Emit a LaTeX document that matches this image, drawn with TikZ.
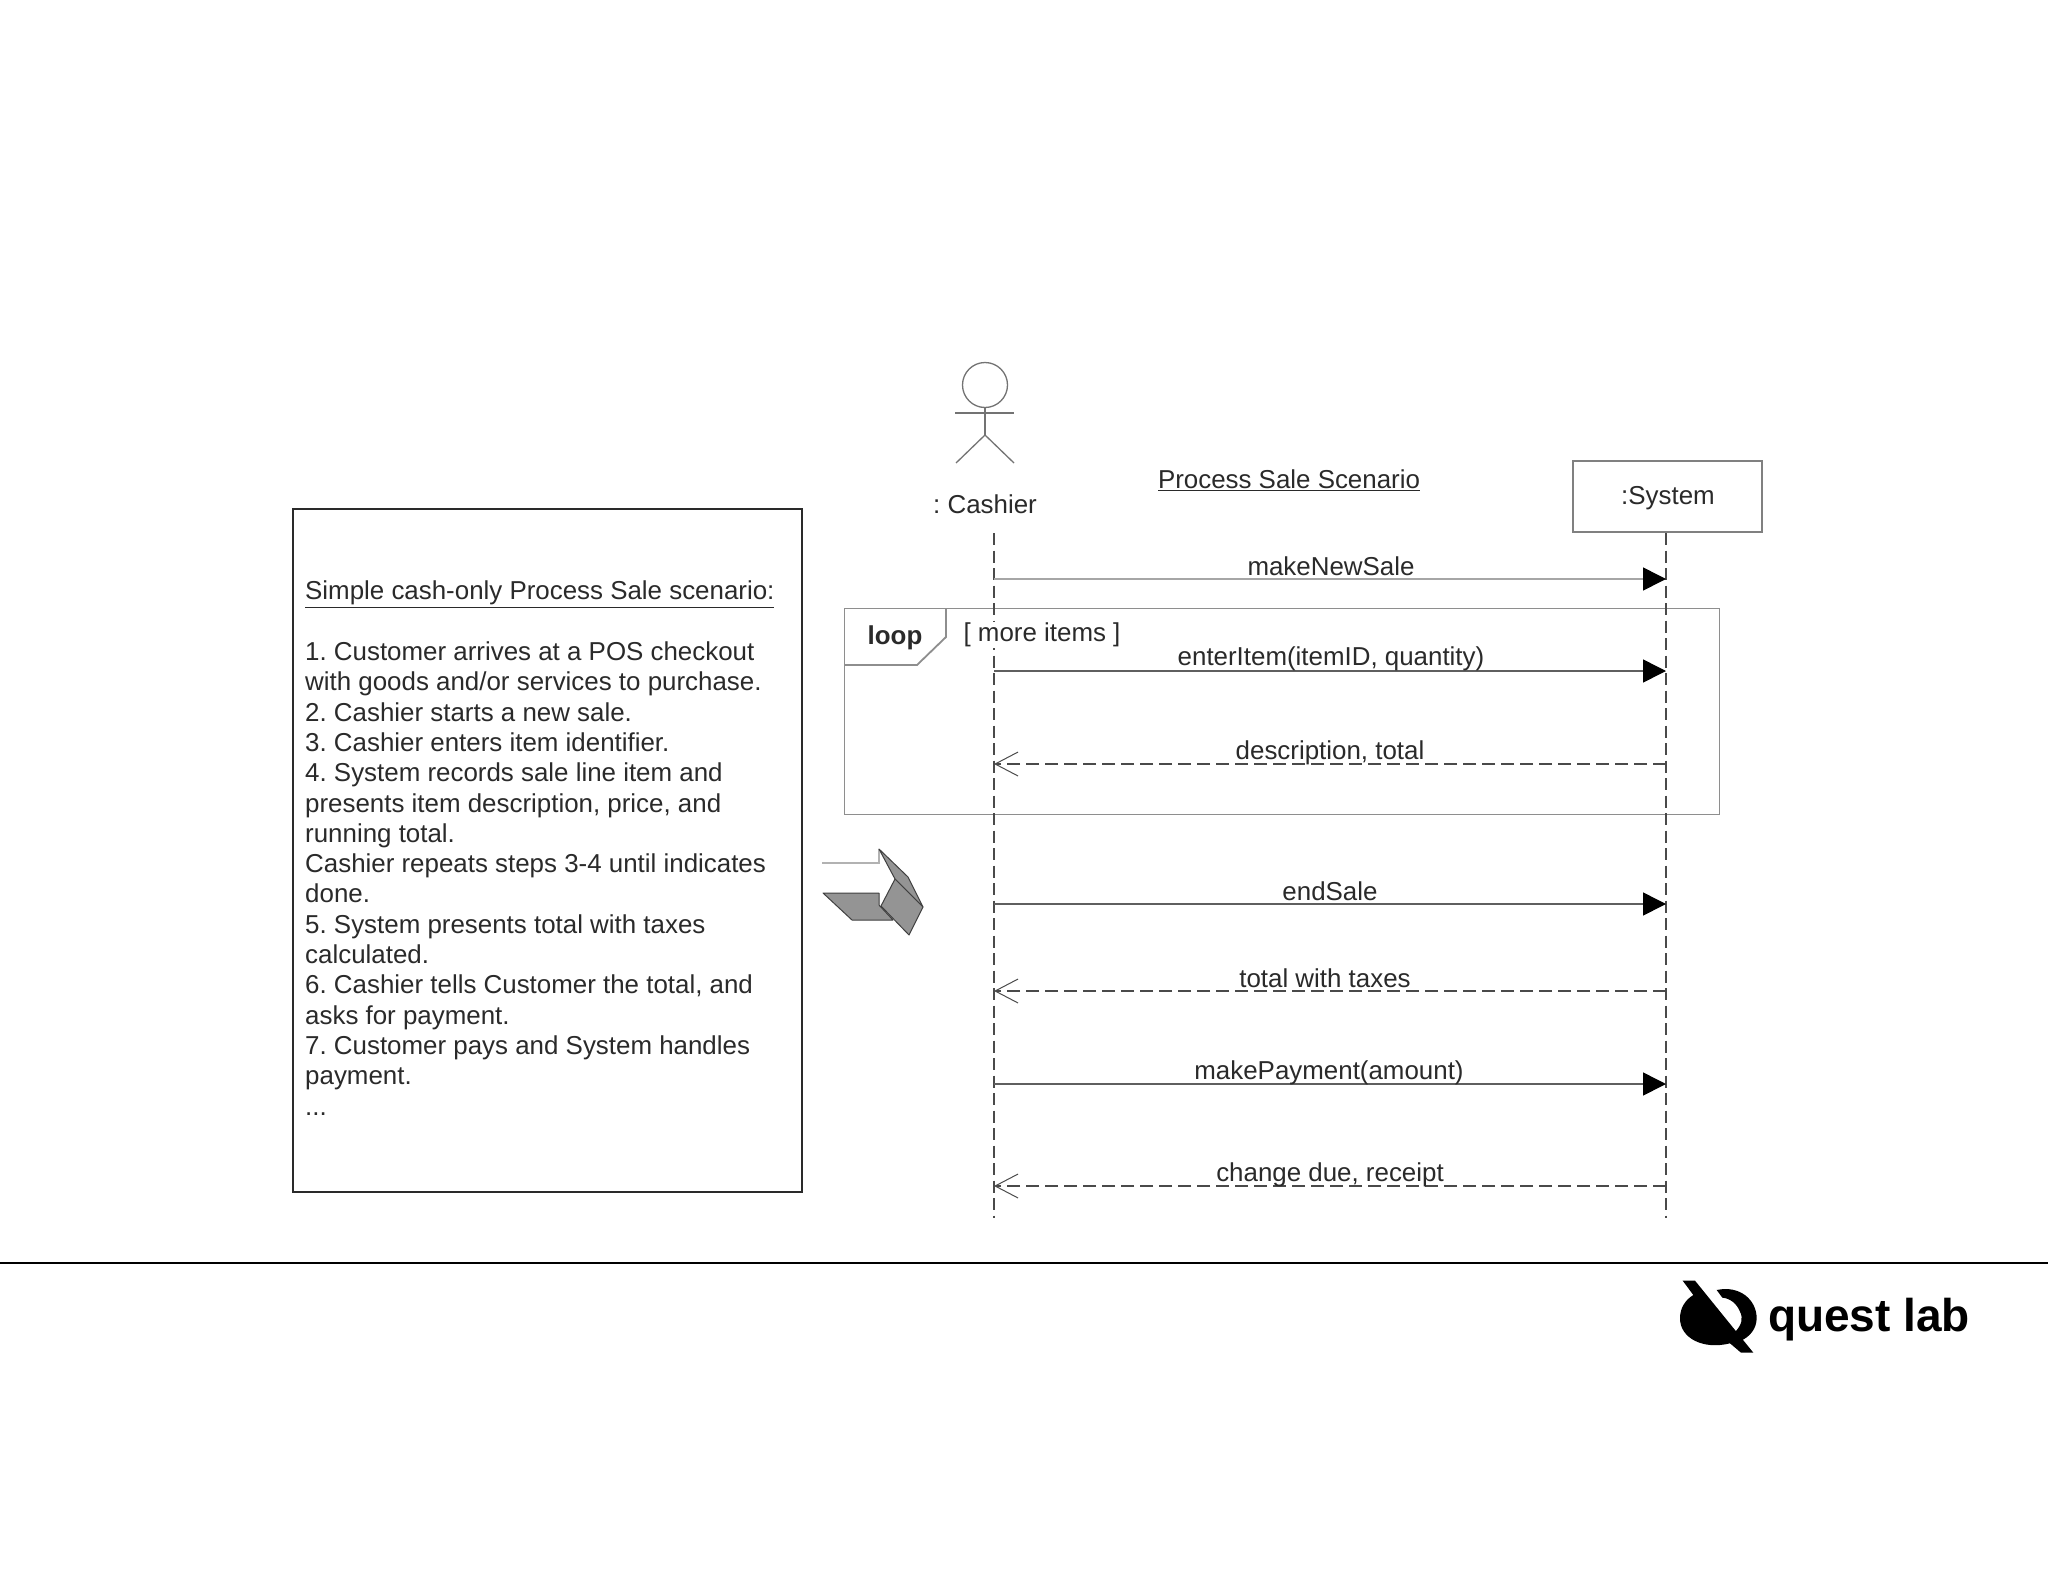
\documentclass[tikz,border=0pt]{standalone}
\usepackage{fontspec}
\setmainfont{Liberation Sans}
\usetikzlibrary{arrows.meta,calc}
\definecolor{ink}{HTML}{2A2A2A}
\definecolor{frameline}{HTML}{8E8E8E}
\definecolor{fold}{HTML}{949494}
\newcommand{\fsz}{\frenchspacing\fontsize{25.9}{30.3}\selectfont}
\tikzset{
  x=1pt,y=-1pt,
  every node/.style={font=\fsz,text=ink,inner sep=1pt},
  lifeline/.style={draw=ink!85,line width=1.7pt,dash pattern=on 12pt off 5.5pt},
  syncmsg/.style={draw=ink!75,line width=1.5pt,-{Triangle[length=23pt,width=23pt,color=black,fill=black]}},
  lightmsg/.style={draw=black!35,line width=1.5pt,-{Triangle[length=23pt,width=23pt,color=black,fill=black]}},
  retmsg/.style={draw=ink!85,line width=1.7pt,dash pattern=on 13pt off 6pt,-{Straight Barb[length=23pt,width=24pt,line width=1pt,color=black!70]}},
  msglabel/.style={inner sep=0pt},
  actorline/.style={draw=black!55,line width=1.3pt},
  foldedge/.style={fill=fold,draw=black!75,line width=1pt,line join=round},
}
\begin{document}
\begin{tikzpicture}
\useasboundingbox (0,0) rectangle (2048,1582);
\fill[white] (0,0) rectangle (2048,1582);

% scenario text box
\node[draw=ink,line width=2pt,minimum width=509pt,minimum height=683pt,anchor=north west,inner sep=0pt] (scenario) at (291.5,508) {};
\node[anchor=north west,align=left,inner sep=0pt] (scenariotext) at (305,581) {%
\underline{Simple cash-only Process Sale scenario:}\\[30.3pt]
1. Customer arrives at a POS checkout\\
with goods and/or services to purchase.\\
2. Cashier starts a new sale.\\
3. Cashier enters item identifier.\\
4. System records sale line item and\\
presents item description, price, and\\
running total.\\
Cashier repeats steps 3-4 until indicates\\
done.\\
5. System presents total with taxes\\
calculated.\\
6. Cashier tells Customer the total, and\\
asks for payment.\\
7. Customer pays and System handles\\
payment.\\
...};

% block arrow
\draw[draw=black!30,line width=1.2pt] (822,863) -- (879,863) -- (879,849);
\path[foldedge] (823,893) -- (879,893) -- (879,905) -- (893,920) -- (852,920) -- cycle;
\path[foldedge] (879,849) -- (908,877) -- (923,907) -- (895,879) -- cycle;
\path[foldedge] (895,879) -- (923,907) -- (909,935) -- (881,906) -- cycle;

% actor
\node[draw=black!55,line width=1.3pt,circle,minimum size=45pt,inner sep=0pt] (head) at (985,385) {};
\coordinate (armL) at (955,413);
\coordinate (armR) at (1014,413);
\coordinate (hip) at (985,435);
\coordinate (footL) at (956,463);
\coordinate (footR) at (1014,463);
\draw[actorline] (head.south) -- (hip);
\draw[actorline] (armL) -- (armR);
\draw[actorline] (footL) -- (hip) -- (footR);
\node (cashier) at (985,504) {: Cashier};

% title and system
\node (title) at (1289,480) {\underline{Process Sale Scenario}};
\node[draw=black!50,line width=1.6pt,minimum width=189pt,minimum height=71pt,inner sep=0pt] (system) at (1667.5,496.5) {};
\node (systemlabel) at (1668,498) {:System};

% loop frame
\node[draw=frameline,line width=1.8pt,minimum width=875pt,minimum height=206pt,anchor=north west,inner sep=0pt] (loopframe) at (843.5,607.5) {};
\coordinate (tabA) at (946,608);
\coordinate (tabB) at (946,637);
\coordinate (tabC) at (917,665);
\coordinate (tabD) at (844,665);
\draw[draw=frameline,line width=1.8pt] (tabA) -- (tabB) -- (tabC) -- (tabD);
\node[font=\fsz\bfseries] (looplabel) at (895,638) {loop};

% lifelines
\coordinate (cTop) at (994,533);
\coordinate (cBot) at (994,1218);
\coordinate (sTop) at (1666,533);
\coordinate (sBot) at (1666,1218);
\draw[lifeline] (cTop) -- (cBot);
\draw[lifeline] (sTop) -- (sBot);
\node[fill=white,inner sep=1pt] (guard) at (1042,635) {[ more items ]};

% message anchors
\foreach \nm/\yy in {a/579,b/671,c/764,d/904,e/991,f/1084,g/1186}{
  \coordinate (c\nm) at (994,\yy);
  \coordinate (s\nm) at (1666,\yy);
}
\draw[lightmsg] (ca) -- (sa);
\draw[syncmsg] (cb) -- (sb);
\draw[retmsg] (sc) -- (cc);
\draw[syncmsg] (cd) -- (sd);
\draw[retmsg] (se) -- (ce);
\draw[syncmsg] (cf) -- (sf);
\draw[retmsg] (sg) -- (cg);

\node[msglabel] (m1) at (1331,566) {makeNewSale};
\node[msglabel] (m2) at (1331,659) {enterItem(itemID, quantity)};
\node[msglabel] (m3) at (1330,753) {description, total};
\node[msglabel] (m4) at (1330,891) {endSale};
\node[msglabel] (m5) at (1325,978) {total with taxes};
\node[msglabel] (m6) at (1329,1073) {makePayment(amount)};
\node[msglabel] (m7) at (1330,1175) {change due, receipt};

% footer rule
\coordinate (ruleL) at (0,1263);
\coordinate (ruleR) at (2048,1263);
\draw[black,line width=2pt] (ruleL) -- (ruleR);

% logo
\begin{scope}[shift={(1640,1250)},x=0.3333pt,y=-0.3333pt]
\fill[black] (128,92) -- (165,92) -- (340,308) -- (303,308) -- (270,280)
  .. controls (190,300) and (120,265) .. (120,205)
  .. controls (120,175) and (135,150) .. (160,135) -- cycle;
\fill[black] (230,120) .. controls (300,105) and (350,150) .. (350,205)
  .. controls (350,235) and (330,260) .. (303,272) -- (286,245)
  .. controls (305,225) and (310,205) .. (300,185)
  .. controls (290,160) and (270,145) .. (247,143) -- cycle;
\end{scope}
\node[font=\fontsize{46}{46}\selectfont\bfseries,text=black] (logotext) at (1869,1320) {quest lab};
\end{tikzpicture}
\end{document}
